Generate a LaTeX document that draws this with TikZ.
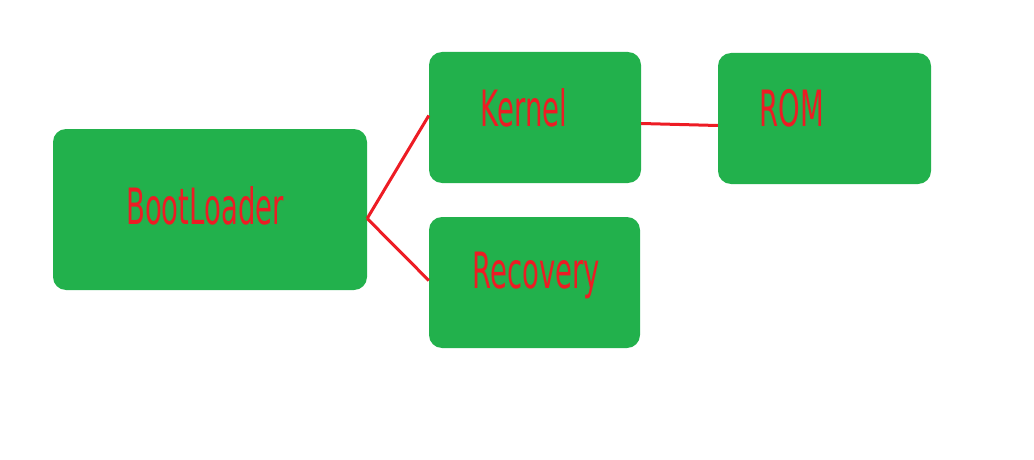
\documentclass[tikz,border=0pt]{standalone}
\usepackage{fontspec}
\setmainfont{DejaVu Sans}
\usepackage{graphicx}
\definecolor{pgreen}{HTML}{22B14C}
\definecolor{pred}{HTML}{ED1C24}
\begin{document}
\begin{tikzpicture}[x=1pt,y=-1pt,
  box/.style={fill=pgreen,rounded corners=13pt,inner sep=0,draw=none},
  lbl/.style={text=pred,font=\fontsize{50}{50}\selectfont,inner sep=0},
  conn/.style={draw=pred,line width=3pt}]
\useasboundingbox (0,0) rectangle (1034,460);
\node[box,minimum width=314pt,minimum height=161pt] (b) at (210,209.5) {};
\node[box,minimum width=212pt,minimum height=131pt] (k) at (535,117.5) {};
\node[box,minimum width=213pt,minimum height=131pt] (r) at (824.5,118.5) {};
\node[box,minimum width=211pt,minimum height=131pt] (v) at (534.5,282.5) {};
\node[lbl] (bt) at (205,206) {\scalebox{0.55}[1]{BootLoader}};
\node[lbl] (kt) at (524,108) {\scalebox{0.55}[1]{Kernel}};
\node[lbl] (rt) at (792,108) {\scalebox{0.55}[1]{ROM}};
\node[lbl] (vt) at (536,275) {\scalebox{0.55}[1]{Recovery}};
\draw[conn] ([yshift=-9pt]b.east) -- ([yshift=2pt]k.west);
\draw[conn] ([yshift=-9pt]b.east) -- ([yshift=2pt]v.west);
\draw[conn] ([yshift=-6pt]k.east) -- ([yshift=-7pt]r.west);
\end{tikzpicture}
\end{document}
